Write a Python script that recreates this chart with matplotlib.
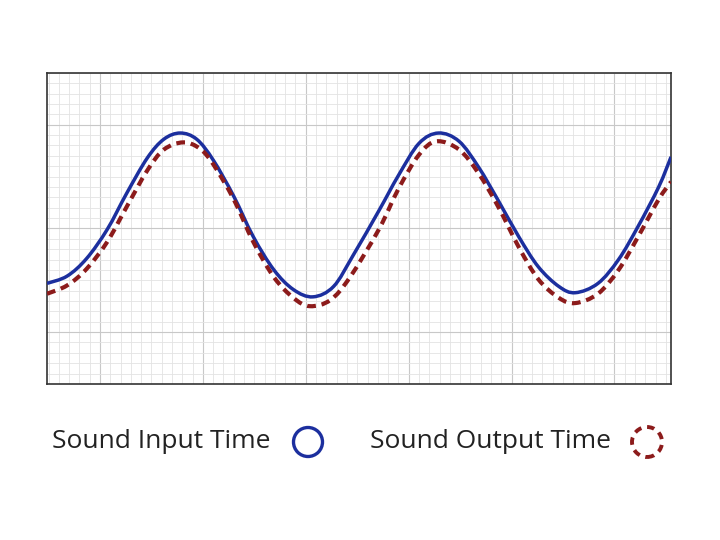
import numpy as np
import matplotlib
matplotlib.use("Agg")
import matplotlib.pyplot as plt
from matplotlib.ticker import MultipleLocator
from matplotlib.patches import Circle, PathPatch
from matplotlib.path import Path

# curve values (x, y in grid units)
t_input = [-0.515, -0.32, -0.13, 0.07, 0.26, 0.46, 0.62, 0.78, 0.94, 1.10, 1.30,
           1.49, 1.69, 1.88, 2.07, 2.27, 2.46, 2.71, 2.90, 3.10, 3.29, 3.49,
           3.68, 3.87, 4.07, 4.26, 4.46, 4.62, 4.84, 5.04, 5.23, 5.43, 5.55]
y_input = [0.47, 0.54, 0.71, 0.99, 1.34, 1.68, 1.86, 1.92, 1.86, 1.66, 1.31,
           0.92, 0.60, 0.41, 0.34, 0.44, 0.74, 1.17, 1.51, 1.82, 1.92, 1.84,
           1.59, 1.27, 0.92, 0.63, 0.44, 0.38, 0.47, 0.70, 1.02, 1.40, 1.69]

t_output = [-0.515, -0.32, -0.13, 0.07, 0.26, 0.46, 0.62, 0.81, 0.97, 1.10, 1.30,
            1.49, 1.69, 1.88, 2.04, 2.24, 2.43, 2.71, 2.90, 3.10, 3.27,
            3.49, 3.68, 3.87, 4.07, 4.26, 4.46, 4.62, 4.84, 5.04, 5.23, 5.43, 5.55]
y_output = [0.37, 0.45, 0.61, 0.87, 1.21, 1.56, 1.76, 1.83, 1.77, 1.62, 1.28,
            0.87, 0.53, 0.33, 0.25, 0.31, 0.53, 0.99, 1.38, 1.71, 1.84,
            1.76, 1.53, 1.21, 0.82, 0.51, 0.33, 0.28, 0.37, 0.60, 0.92, 1.28, 1.45]

labels = ["Sound Input Time", "Sound Output Time"]
blue = "#1c2f9e"
red = "#8c1b1b"


# smooth curve through the points (catmull-rom as bezier segments)
def smooth_path(x, y):
    pts = np.column_stack([x, y])
    n = len(pts)
    verts = [pts[0]]
    codes = [Path.MOVETO]
    for i in range(n - 1):
        p0 = pts[max(i - 1, 0)]
        p1 = pts[i]
        p2 = pts[i + 1]
        p3 = pts[min(i + 2, n - 1)]
        verts += [p1 + (p2 - p0) / 6, p2 - (p3 - p1) / 6, p2]
        codes += [Path.CURVE4] * 3
    return Path(verts, codes)


fig = plt.figure(figsize=(7.2, 5.4), dpi=100)
ax = fig.add_axes([0.0653, 0.289, 0.8667, 0.576])

ax.add_patch(PathPatch(smooth_path(t_input, y_input), fill=False,
                       edgecolor=blue, lw=2.5, zorder=3))
ax.add_patch(PathPatch(smooth_path(t_output, y_output), fill=False,
                       edgecolor=red, lw=3.0, linestyle=(0, (2.1, 1.4)), zorder=3))

ax.set_xlim(-0.515, 5.55)
ax.set_ylim(-0.5, 2.5)
ax.xaxis.set_major_locator(MultipleLocator(1))
ax.yaxis.set_major_locator(MultipleLocator(1))
ax.xaxis.set_minor_locator(MultipleLocator(0.1))
ax.yaxis.set_minor_locator(MultipleLocator(0.1))
ax.grid(which="major", color="#c8c8c8", lw=0.8)
ax.grid(which="minor", color="#e3e3e3", lw=0.6)
ax.tick_params(which="both", length=0, labelbottom=False, labelleft=False)
for s in ax.spines.values():
    s.set_color("#333333")
    s.set_linewidth(1.2)

# legend row below the chart
fig.text(52 / 720, 1 - 441 / 540, labels[0], fontsize=19, family="Open Sans",
         color="#222222", va="center", ha="left")
fig.text(370 / 720, 1 - 441 / 540, labels[1], fontsize=19, family="Open Sans",
         color="#222222", va="center", ha="left")
fig.add_artist(Circle((3.08, 0.98), 0.145, transform=fig.dpi_scale_trans,
                      fill=False, edgecolor=blue, lw=2.4))
fig.add_artist(Circle((6.47, 0.98), 0.15, transform=fig.dpi_scale_trans,
                      fill=False, edgecolor=red, lw=2.8, linestyle=(0, (1.9, 1.5))))

fig.savefig("out.png", dpi=100)
